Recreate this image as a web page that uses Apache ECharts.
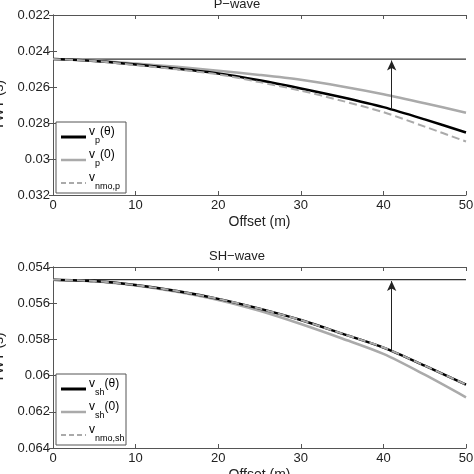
<!DOCTYPE html><html><head><meta charset="utf-8"><script src="https://cdn.jsdelivr.net/npm/echarts@6/dist/echarts.min.js"></script></head><body style="margin:0"><div id="c" style="width:474px;height:474px"></div><script>
const offsets=[0,5,10,15,20,25,30,35,40,45,50];
const pTheta=[0.02445,0.02455,0.02475,0.02498,0.02525,0.02563,0.02608,0.02657,0.02712,0.02780,0.02853];
const p0=[0.02445,0.02453,0.02470,0.02488,0.02510,0.02533,0.02560,0.02597,0.02640,0.02690,0.02743];
const pNmo=[0.02445,0.02456,0.02478,0.02502,0.02530,0.02573,0.02620,0.02677,0.02740,0.02820,0.02903];
const shTheta=[0.0547,0.05478,0.05500,0.05533,0.05576,0.05630,0.05693,0.05768,0.05845,0.05945,0.06050];
const sh0=[0.0547,0.05479,0.05502,0.05537,0.05582,0.05642,0.05715,0.05795,0.05880,0.05995,0.06120];
const shNmo=[0.0547,0.05478,0.05500,0.05533,0.05576,0.05630,0.05693,0.05768,0.05845,0.05945,0.06050];
const pTicks=[0.022,0.032,0.002], shTicks=[0.054,0.064,0.002];
const z=(a)=>offsets.map((x,i)=>[x,a[i]]);
const F='Liberation Sans';
const lab={fontFamily:F,fontSize:13,color:'#222'};
function xa(g,pos,show){return {gridIndex:g,type:'value',min:0,max:50,interval:10,position:pos,
 axisLine:{show:true,onZero:false,lineStyle:{color:'#555'}},axisTick:{inside:true,length:4,lineStyle:{color:'#555'}},
 axisLabel:{show:show,...lab,margin:4},splitLine:{show:false},
 name:show?'Offset (m)':'',nameLocation:'middle',nameGap:20,nameTextStyle:{fontFamily:F,fontSize:14,color:'#222'}};}
function ya(g,t,pos,show){return {gridIndex:g,type:'value',inverse:true,min:t[0],max:t[1],interval:t[2],position:pos,
 axisLine:{show:true,lineStyle:{color:'#555'}},axisTick:{inside:true,length:4,lineStyle:{color:'#555'}},
 axisLabel:{show:show,...lab,margin:3,formatter:v=>String(+v.toFixed(3))},splitLine:{show:false},
 name:show?'TWT (s)':'',nameLocation:'middle',nameGap:40,nameRotate:90,nameTextStyle:{fontFamily:F,fontSize:14,color:'#222'}};}
function ser(g,d,c,w,type){return {type:'line',xAxisIndex:g*2,yAxisIndex:g*2,data:z(d),showSymbol:false,smooth:0.3,lineStyle:{color:c,width:w,type:type},z:type=='dashed'?5:(c=='#000'?4:3)};}
function flat(g,v,xArrow,yArrow){return {type:'line',xAxisIndex:g*2,yAxisIndex:g*2,data:[[0,v],[50,v]],showSymbol:false,lineStyle:{color:'#333',width:1.2},
 markLine:{silent:true,symbol:['none','arrow'],symbolSize:[7,10],label:{show:false},lineStyle:{color:'#222',width:1,type:'solid'},
 data:[[{coord:[xArrow,yArrow]},{coord:[xArrow,v+0.00008]}]]}};}
function legend(top,names){const el=[{type:'rect',shape:{x:56,y:top,width:70,height:71},style:{fill:'#fff',stroke:'#555',lineWidth:1},z:50}];
 const st=[{stroke:'#000',lineWidth:3},{stroke:'#aaa',lineWidth:2.5},{stroke:'#aaa',lineWidth:2,lineDash:[5,3]}];
 names.forEach((n,i)=>{const y=top+12+i*23;
  el.push({type:'line',shape:{x1:61,y1:y+3,x2:86,y2:y+3},style:st[i],z:51});
  el.push({type:'text',x:89,y:y-8,style:{text:'{a|v}{s|'+n[0]+'}{a|'+n[1]+'}',rich:{a:{fontFamily:F,fontSize:12,color:'#222',verticalAlign:'top'},s:{fontFamily:F,fontSize:9,color:'#222',padding:[10,0,0,0]}}},z:51});});
 return el;}
const opt={animation:false,backgroundColor:'#fff',
 title:[{text:'P\u2212wave',left:'center',top:-7,textStyle:{fontFamily:F,fontSize:13,fontWeight:'normal',color:'#222'}},
  {text:'SH\u2212wave',left:'center',top:245,textStyle:{fontFamily:F,fontSize:13,fontWeight:'normal',color:'#222'}}],
 grid:[{left:53,width:413,top:15,height:180,containLabel:false,outerBoundsMode:'none'},{left:53,width:413,top:267,height:181,containLabel:false,outerBoundsMode:'none'}],
 xAxis:[xa(0,'bottom',true),xa(0,'top',false),xa(1,'bottom',true),xa(1,'top',false)],
 yAxis:[ya(0,pTicks,'left',true),ya(0,pTicks,'right',false),ya(1,shTicks,'left',true),ya(1,shTicks,'right',false)],
 series:[flat(0,0.02445,41,0.02725),ser(0,p0,'#aaa',2.5,'solid'),ser(0,pTheta,'#000',2.5,'solid'),ser(0,pNmo,'#aaa',2,'dashed'),
  flat(1,0.0547,41,0.0586),ser(1,sh0,'#aaa',2.5,'solid'),ser(1,shTheta,'#000',2.5,'solid'),ser(1,shNmo,'#aaa',2,'dashed')],
 graphic:[...legend(122,[['p','(\u03b8)'],['p','(0)'],['nmo,p','']]),...legend(374,[['sh','(\u03b8)'],['sh','(0)'],['nmo,sh','']])]};
echarts.init(document.getElementById('c')).setOption(opt);
</script></body></html>
